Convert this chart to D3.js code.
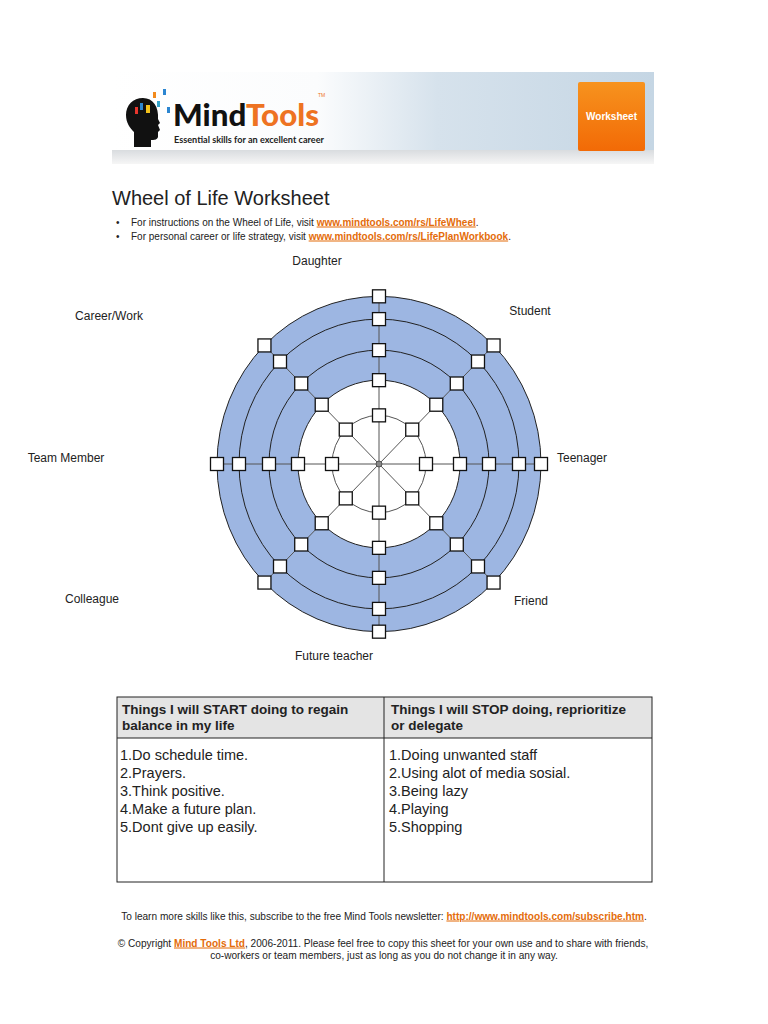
<!DOCTYPE html>
<html>
<head>
<meta charset="utf-8">
<script src="https://cdn.jsdelivr.net/npm/d3@7"></script>
<style>
  body { margin: 0; background: #fff; }
  svg { display: block; font-family: "Liberation Sans", Arial, sans-serif; }
</style>
</head>
<body>
<svg id="page" width="768" height="1024"></svg>
<script>
"use strict";

// spokes of the wheel, clockwise from the top
var categories = ["Daughter", "Student", "Teenager", "Friend",
                  "Future teacher", "Colleague", "Team Member", "Career/Work"];

// score rings on each spoke
var levels = [1, 2, 3, 4, 5];

// the shaded band runs between these rings
var bandLevels = [2, 5];

var startItems = ["1.Do schedule time.", "2.Prayers.", "3.Think positive.",
                  "4.Make a future plan.", "5.Dont give up easily."];
var stopItems = ["1.Doing unwanted staff", "2.Using alot of media sosial.",
                 "3.Being lazy", "4.Playing", "5.Shopping"];

var tableHeaders = [["Things I will START doing to regain", "balance in my life"],
                    ["Things I will STOP doing, reprioritize", "or delegate"]];

var svg = d3.select("#page");
var orange = "#e46c0a";

// ---------- banner ----------
var defs = svg.append("defs");
var sky = defs.append("linearGradient").attr("id", "sky");
sky.append("stop").attr("offset", "0%").attr("stop-color", "#ffffff");
sky.append("stop").attr("offset", "38%").attr("stop-color", "#fbfcfd");
sky.append("stop").attr("offset", "60%").attr("stop-color", "#d6e2ec");
sky.append("stop").attr("offset", "100%").attr("stop-color", "#c5d6e4");

var shade = defs.append("linearGradient").attr("id", "shade")
    .attr("x1", 0).attr("x2", 0).attr("y1", 0).attr("y2", 1);
shade.append("stop").attr("offset", "0%").attr("stop-color", "#d9dcdf");
shade.append("stop").attr("offset", "100%").attr("stop-color", "#f6f6f6");

var orangeGrad = defs.append("linearGradient").attr("id", "orangeGrad")
    .attr("x1", 0).attr("x2", 0).attr("y1", 0).attr("y2", 1);
orangeGrad.append("stop").attr("offset", "0%").attr("stop-color", "#f7931e");
orangeGrad.append("stop").attr("offset", "100%").attr("stop-color", "#f26a06");

var banner = svg.append("g");
banner.append("rect").attr("x", 112).attr("y", 72).attr("width", 542).attr("height", 80)
    .attr("fill", "url(#sky)");
banner.append("rect").attr("x", 112).attr("y", 150).attr("width", 542).attr("height", 14)
    .attr("fill", "url(#shade)");
banner.append("rect").attr("x", 578).attr("y", 82).attr("width", 67).attr("height", 69)
    .attr("rx", 2).attr("fill", "url(#orangeGrad)");
banner.append("text").attr("x", 611.5).attr("y", 119.5).attr("text-anchor", "middle")
    .attr("fill", "#fff").attr("font-size", 10).attr("font-weight", "bold")
    .text("Worksheet");

// head silhouette, facing right
banner.append("path")
    .attr("d", "M143,98 C133,98 126,105 126,115 C126,123 130,128 134,132 L134,147 L151,147 L151,140 " +
               "C154,140 157,140 158,137 L158,132 L160,130 L158,125 L160,123 L158,119 " +
               "C159,107 153,98 143,98 Z")
    .attr("fill", "#111");
var bars = [["#e8362d", 135, 107, 3, 7], ["#2c86d1", 140, 103, 3, 7], ["#f3c21b", 146, 105, 4, 8],
            ["#f28a1c", 153, 92, 3, 6], ["#2c86d1", 163, 89, 3, 6], ["#33a3c9", 157, 101, 3, 6],
            ["#2c86d1", 167, 107, 3, 6]];
banner.selectAll("rect.bar").data(bars).enter().append("rect")
    .attr("class", "bar")
    .attr("fill", function(d) { return d[0]; })
    .attr("x", function(d) { return d[1]; })
    .attr("y", function(d) { return d[2]; })
    .attr("width", function(d) { return d[3]; })
    .attr("height", function(d) { return d[4]; });

var logo = banner.append("text").attr("x", 173).attr("y", 126)
    .attr("font-family", "Lato, 'DejaVu Sans', sans-serif").attr("font-weight", 900)
    .attr("font-size", 31).attr("textLength", 146).attr("lengthAdjust", "spacingAndGlyphs");
logo.append("tspan").attr("fill", "#111").text("Mind");
logo.append("tspan").attr("fill", "#ee7322").text("Tools");
banner.append("text").attr("x", 318).attr("y", 97).attr("font-size", 5)
    .attr("fill", "#ee7322").text("TM");
banner.append("text").attr("x", 174).attr("y", 143).attr("font-size", 9)
    .attr("font-family", "Lato, 'DejaVu Sans', sans-serif").attr("font-weight", "bold")
    .attr("fill", "#222").attr("textLength", 150).attr("lengthAdjust", "spacingAndGlyphs")
    .text("Essential skills for an excellent career");

// ---------- title and bullets ----------
svg.append("text").attr("x", 112).attr("y", 205).attr("font-size", 20)
    .attr("fill", "#222").text("Wheel of Life Worksheet");

var bullets = [["For instructions on the Wheel of Life, visit ", "www.mindtools.com/rs/LifeWheel"],
               ["For personal career or life strategy, visit ", "www.mindtools.com/rs/LifePlanWorkbook"]];
var bl = svg.selectAll("g.bullet").data(bullets).enter().append("g")
    .attr("class", "bullet")
    .attr("transform", function(d, i) { return "translate(0," + (225.5 + i * 14) + ")"; });
bl.append("text").attr("x", 116).attr("font-size", 10).attr("fill", "#222").text("\u2022");
var bt = bl.append("text").attr("x", 131).attr("font-size", 10).attr("fill", "#222");
bt.append("tspan").text(function(d) { return d[0]; });
bt.append("tspan").attr("fill", orange).attr("font-weight", "bold")
    .attr("text-decoration", "underline").text(function(d) { return d[1]; });
bt.append("tspan").text(".");

// ---------- wheel ----------
var cx = 379, cy = 464, squash = 1.035;
var r = d3.scaleLinear().domain([0, 1, 2, 3, 4, 5]).range([0, 47, 81, 110, 140, 162]);
var angle = d3.scaleLinear().domain([0, categories.length]).range([0, 2 * Math.PI]);
function px(i, lv) { return cx + r(lv) * Math.sin(angle(i)); }
function py(i, lv) { return cy - r(lv) * squash * Math.cos(angle(i)); }

var wheel = svg.append("g");
wheel.append("ellipse").attr("cx", cx).attr("cy", cy)
    .attr("rx", r(bandLevels[1])).attr("ry", r(bandLevels[1]) * squash)
    .attr("fill", "#9db6e2");
wheel.append("ellipse").attr("cx", cx).attr("cy", cy)
    .attr("rx", r(bandLevels[0])).attr("ry", r(bandLevels[0]) * squash)
    .attr("fill", "#fff");

wheel.selectAll("ellipse.ring").data(levels).enter().append("ellipse")
    .attr("class", "ring")
    .attr("cx", cx).attr("cy", cy)
    .attr("rx", function(d) { return r(d); })
    .attr("ry", function(d) { return r(d) * squash; })
    .attr("fill", "none")
    .attr("stroke", function(d) { return d === 1 ? "#555" : "#222"; })
    .attr("stroke-width", 1);

wheel.selectAll("line.spoke").data(categories).enter().append("line")
    .attr("class", "spoke")
    .attr("x1", cx).attr("y1", cy)
    .attr("x2", function(d, i) { return px(i, d3.max(levels)); })
    .attr("y2", function(d, i) { return py(i, d3.max(levels)); })
    .attr("stroke", "#555").attr("stroke-width", 1);

wheel.append("circle").attr("cx", cx).attr("cy", cy).attr("r", 3)
    .attr("fill", "#888").attr("stroke", "#444").attr("stroke-width", 0.8);

var boxes = [];
categories.forEach(function(c, i) {
    levels.forEach(function(lv) { boxes.push({i: i, lv: lv}); });
});
var box = 13;
wheel.selectAll("rect.box").data(boxes).enter().append("rect")
    .attr("class", "box")
    .attr("x", function(d) { return px(d.i, d.lv) - box / 2; })
    .attr("y", function(d) { return py(d.i, d.lv) - box / 2; })
    .attr("width", box).attr("height", box)
    .attr("fill", "#fff").attr("stroke", "#111").attr("stroke-width", 1.3);

// labels sit where the worksheet put them, not on the spokes
var labelPos = {
    "Daughter": [317, 265, "middle"], "Student": [530, 315, "middle"],
    "Teenager": [582, 462, "middle"], "Friend": [531, 605, "middle"],
    "Future teacher": [334, 660, "middle"], "Colleague": [92, 603, "middle"],
    "Team Member": [66, 462, "middle"], "Career/Work": [109, 320, "middle"]
};
svg.selectAll("text.cat").data(categories).enter().append("text")
    .attr("class", "cat")
    .attr("x", function(d) { return labelPos[d][0]; })
    .attr("y", function(d) { return labelPos[d][1]; })
    .attr("text-anchor", function(d) { return labelPos[d][2]; })
    .attr("font-size", 12).attr("fill", "#222")
    .text(function(d) { return d; });

// ---------- table ----------
var tx0 = 117, tx1 = 652, ty0 = 697, tyH = 738, ty1 = 882, tmid = 384;
var table = svg.append("g");
table.append("rect").attr("x", tx0).attr("y", ty0).attr("width", tx1 - tx0).attr("height", tyH - ty0)
    .attr("fill", "#e4e4e4");
table.append("rect").attr("x", tx0).attr("y", ty0).attr("width", tx1 - tx0).attr("height", ty1 - ty0)
    .attr("fill", "none").attr("stroke", "#222").attr("stroke-width", 1);
table.append("line").attr("x1", tx0).attr("x2", tx1).attr("y1", tyH).attr("y2", tyH)
    .attr("stroke", "#222");
table.append("line").attr("x1", tmid).attr("x2", tmid).attr("y1", ty0).attr("y2", ty1)
    .attr("stroke", "#222");

var colX = [122, 391];
tableHeaders.forEach(function(lines, c) {
    table.selectAll(null).data(lines).enter().append("text")
        .attr("x", colX[c]).attr("y", function(d, i) { return 713.5 + i * 16; })
        .attr("font-size", 13.5).attr("font-weight", "bold").attr("fill", "#222")
        .text(function(d) { return d; });
});
[startItems, stopItems].forEach(function(items, c) {
    table.selectAll(null).data(items).enter().append("text")
        .attr("x", colX[c] - 2).attr("y", function(d, i) { return 760 + i * 18; })
        .attr("font-size", 14.5).attr("fill", "#222")
        .text(function(d) { return d; });
});

// ---------- footer ----------
var fs = 10.1;
var f1 = svg.append("text").attr("x", 384).attr("y", 919.5).attr("text-anchor", "middle")
    .attr("font-size", fs).attr("fill", "#222");
f1.append("tspan").text("To learn more skills like this, subscribe to the free Mind Tools newsletter: ");
f1.append("tspan").attr("fill", orange).attr("font-weight", "bold")
    .attr("text-decoration", "underline").text("http://www.mindtools.com/subscribe.htm");
f1.append("tspan").text(".");

var f2 = svg.append("text").attr("x", 383).attr("y", 946.5).attr("text-anchor", "middle")
    .attr("font-size", fs).attr("fill", "#222");
f2.append("tspan").text("\u00a9 Copyright ");
f2.append("tspan").attr("fill", orange).attr("font-weight", "bold")
    .attr("text-decoration", "underline").text("Mind Tools Ltd");
f2.append("tspan").text(", 2006-2011. Please feel free to copy this sheet for your own use and to share with friends,");
svg.append("text").attr("x", 384).attr("y", 958.5).attr("text-anchor", "middle")
    .attr("font-size", fs).attr("fill", "#222")
    .text("co-workers or team members, just as long as you do not change it in any way.");
</script>
</body>
</html>
